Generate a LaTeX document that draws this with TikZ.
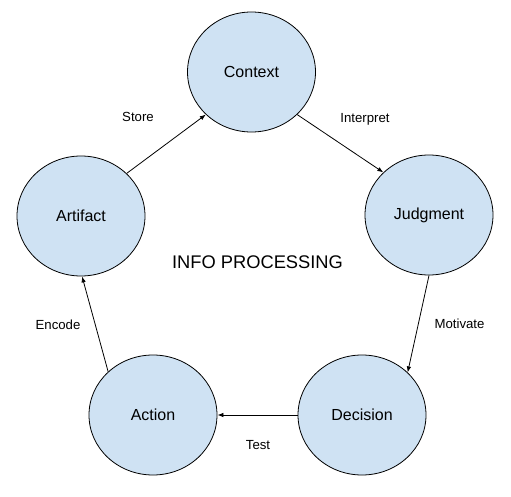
\documentclass[tikz,border=0pt]{standalone}
\usepackage{fontspec}
\setmainfont{Liberation Sans}
\usetikzlibrary{shapes.geometric,arrows.meta}
\definecolor{nodefill}{HTML}{CFE2F3}
\tikzset{
  stage/.style={ellipse, draw=black, line width=0.8bp, fill=nodefill, inner sep=0pt,
    minimum width=128bp, minimum height=120bp, font=\fontsize{16bp}{18bp}\selectfont},
  conn/.style={draw=black, line width=0.8bp, -{Latex[length=6bp,width=4.5bp]}},
  lbl/.style={font=\fontsize{13.2bp}{15bp}\selectfont, inner sep=0pt},
}
\begin{document}
\begin{tikzpicture}[x=1bp,y=-1bp]
\useasboundingbox (0,0) rectangle (511,497);
\node[stage] (context) at (251.5,72) {Context};
\node[stage] (judgment) at (429,215) {Judgment};
\node[stage] (decision) at (362,415) {Decision};
\node[stage] (action) at (153,415) {Action};
\node[stage] (artifact) at (81,216) {Artifact};
\draw[conn] (artifact.43.7) -- (context.223.7);
\draw[conn] (context.317.6) -- (judgment.137.5);
\draw[conn] (judgment.270) -- (decision.43);
\draw[conn] (decision.180) -- (action.0);
\draw[conn] (action.136.9) -- (artifact.271);
\node[lbl] (lstore) at (138,117) {Store};
\node[lbl] (linterp) at (365,119) {Interpret};
\node[lbl] (lmotiv) at (459.5,324) {Motivate};
\node[lbl] (ltest) at (258,445) {Test};
\node[lbl] (lencode) at (58,325) {Encode};
\node[font=\fontsize{18.3bp}{21bp}\selectfont, inner sep=0pt] (title) at (257.5,262) {INFO PROCESSING};
\end{tikzpicture}
\end{document}
